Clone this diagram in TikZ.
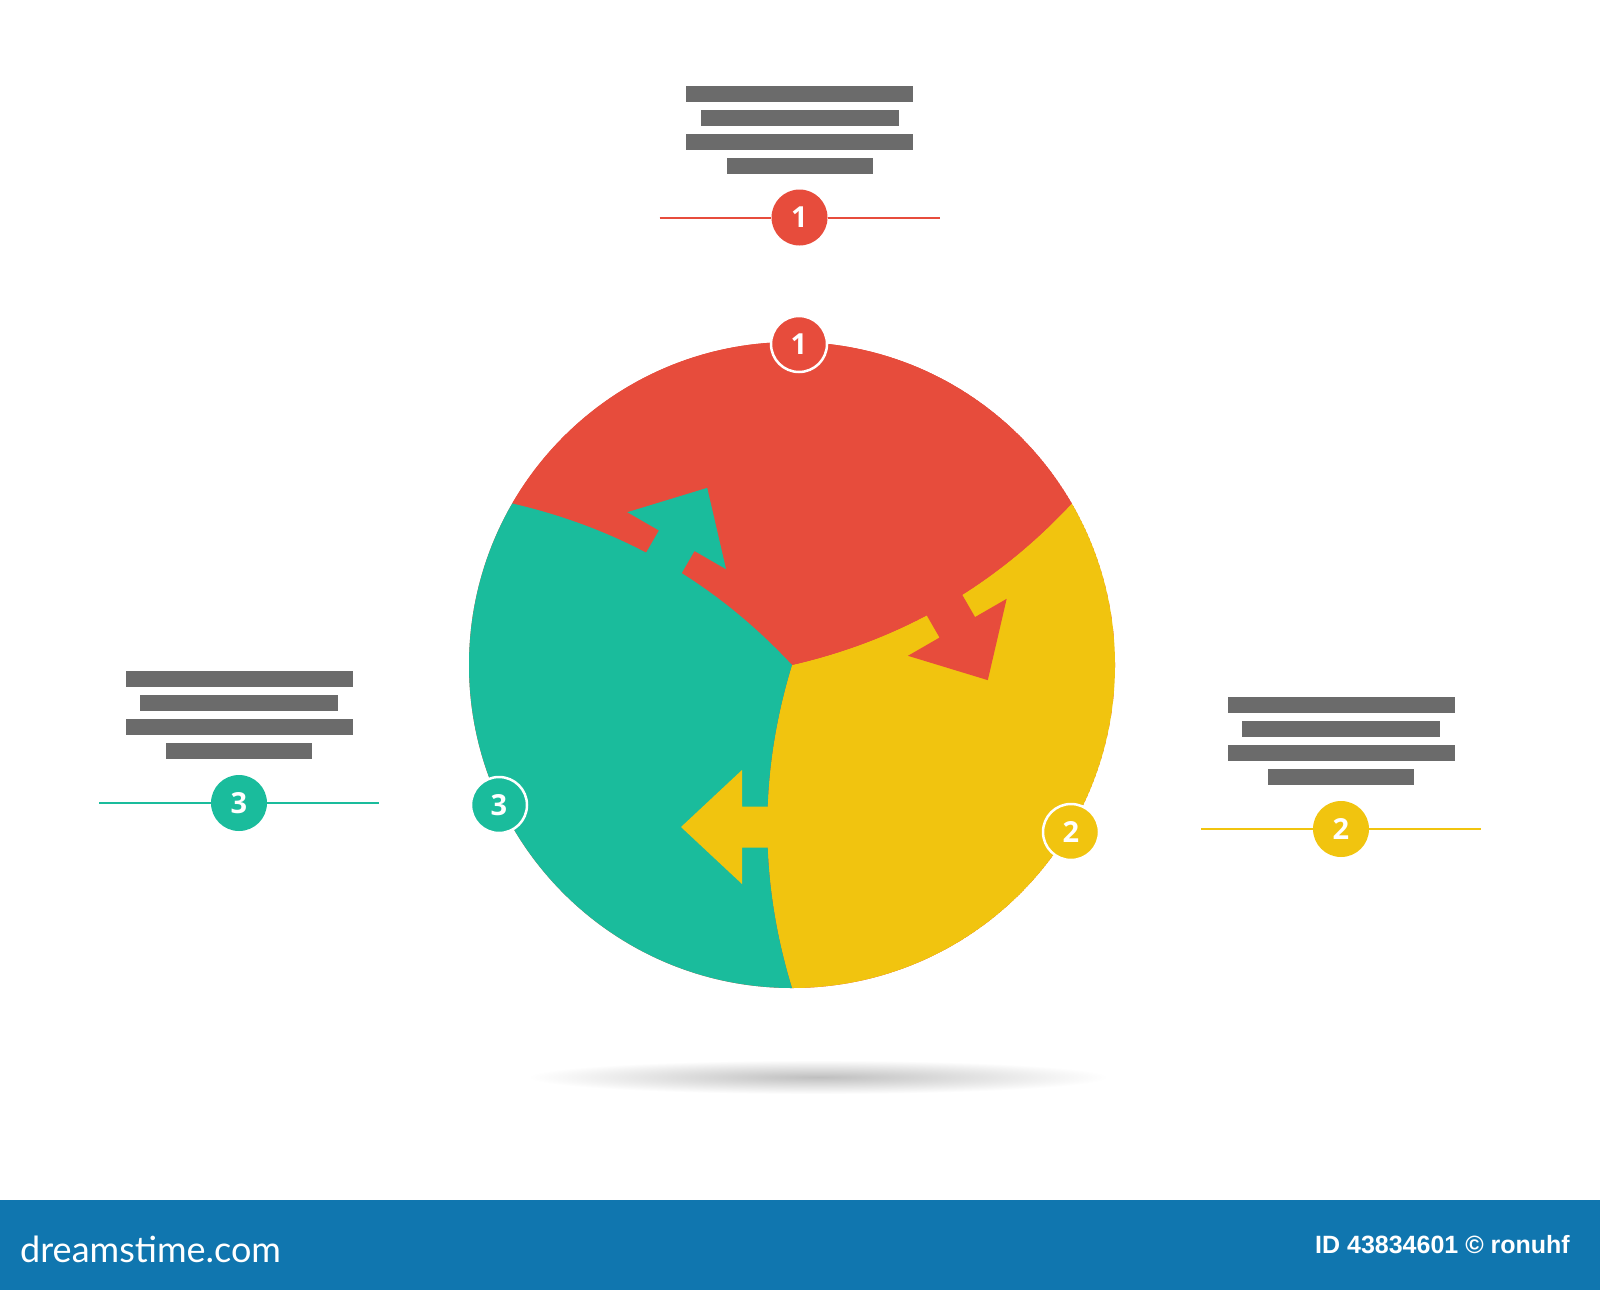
\documentclass[tikz,border=0pt]{standalone}
\usepackage{fontspec}
\setmainfont{Open Sans}
\newfontfamily\logofont{Lato}
\newfontfamily\idfont{Liberation Sans}
\definecolor{cred}{HTML}{E74C3C}
\definecolor{cteal}{HTML}{1ABC9C}
\definecolor{cyel}{HTML}{F1C40F}
\definecolor{bargray}{HTML}{6B6B6B}
\definecolor{bannerblue}{HTML}{1076AF}
\newcommand\tabarrow[2]{%
  \begin{scope}[rotate=#1]
    \fill[#2] (12,141.5) -- (-50,141.5) -- (-50,105) -- (-111,162) -- (-50,219) -- (-50,182.5) -- (12,182.5) -- cycle;
  \end{scope}}
\newcommand\infogroup[4]{%
  \begin{scope}[shift={(#1,#2)}]
    \fill[bargray] (-113.5,0) rectangle (113.5,16);
    \fill[bargray] (-99,24) rectangle (99,40);
    \fill[bargray] (-113.5,48) rectangle (113.5,64);
    \fill[bargray] (-73,72) rectangle (73,88);
    \node[numdot, fill=#3] (n#4) at (0,132) {#4};
    \coordinate (l#4) at (-140,132);
    \coordinate (r#4) at (140,132);
    \draw[guide, #3] (l#4) -- (n#4);
    \draw[guide, #3] (n#4) -- (r#4);
  \end{scope}}
\begin{document}
\begin{tikzpicture}[x=1pt,y=-1pt,
  numdot/.style={circle, minimum size=56pt, inner sep=0pt, text=white,
    font=\fontsize{29}{29}\selectfont\bfseries},
  ringdot/.style={numdot, draw=white, line width=2.5pt},
  guide/.style={line width=2pt}]
\fill[white] (0,0) rectangle (1600,1290);
\useasboundingbox (0,0) rectangle (1600,1290);
% shadow
\shade[inner color=black!25, outer color=white] (818,1077) ellipse [x radius=290pt, y radius=17pt];
% pie
\begin{scope}[shift={(792,665)}]
  \begin{scope}
    \clip (0,0) circle [radius=323pt];
    \fill[cred] (0,0) circle [radius=323pt];
    \fill[cyel] (0,0) .. controls (-33,108) and (-33,215) .. (0,323) -- (0,480) -- (480,480) -- (480,-242) -- (420,-242) -- (279.7,-161.5) .. controls (202.7,-78.9) and (110,-25.4) .. (0,0) -- cycle;
    \fill[cred] (0,0) .. controls (110,-25.4) and (202.7,-78.9) .. (279.7,-161.5) -- (420,-242) -- (420,-480) -- (-420,-480) -- (-420,-242) -- (-279.7,-161.5) .. controls (-169.7,-136.1) and (-77,-82.6) .. (0,0) -- cycle;
    \fill[cteal] (0,0) .. controls (-77,-82.6) and (-169.7,-136.1) .. (-279.7,-161.5) -- (-420,-242) -- (-480,-242) -- (-480,480) -- (0,480) -- (0,323) .. controls (-33,215) and (-33,108) .. (0,0) -- cycle;
  \end{scope}
  \tabarrow{0}{cyel}
  \tabarrow{120}{cred}
  \tabarrow{240}{cteal}
\end{scope}
\node[ringdot, fill=cred] (c1) at (799,344) {1};
\node[ringdot, fill=cyel] (c2) at (1071,832) {2};
\node[ringdot, fill=cteal] (c3) at (499,805) {3};
% text groups
\infogroup{799.5}{85.5}{cred}{1}
\infogroup{1341}{697}{cyel}{2}
\infogroup{239}{671}{cteal}{3}
% banner
\fill[bannerblue] (0,1200) rectangle (1600,1290);
\node[anchor=base west, text=white, inner sep=0pt, font=\logofont\fontsize{36}{36}\selectfont] (logo) at (20,1262) {dreamstime.com};
\node[anchor=base east, text=white, inner sep=0pt, font=\idfont\bfseries\fontsize{25}{25}\selectfont] (idtext) at (1570,1253) {ID 43834601 © ronuhf};
\end{tikzpicture}
\end{document}
